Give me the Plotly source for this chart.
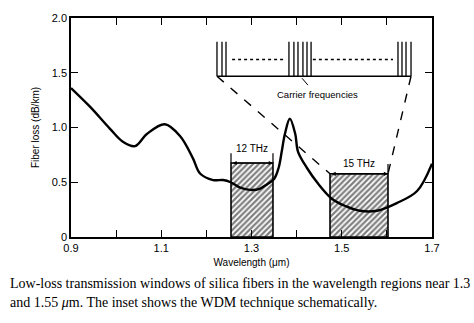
import plotly.graph_objects as go

# Fiber loss curve (wavelength in um, loss in dB/km)
wavelength = [0.90, 0.942, 0.986, 1.015, 1.042, 1.068, 1.108, 1.142, 1.17, 1.186,
              1.215, 1.237, 1.254, 1.275, 1.297, 1.318, 1.334, 1.35, 1.36, 1.367,
              1.374, 1.385, 1.397, 1.403, 1.423, 1.447, 1.478, 1.51, 1.54, 1.578,
              1.622, 1.667, 1.70]
loss = [1.36, 1.19, 0.99, 0.87, 0.83, 0.94, 1.03, 0.92, 0.72, 0.58,
        0.52, 0.52, 0.50, 0.45, 0.43, 0.44, 0.48, 0.53, 0.63, 0.78,
        0.94, 1.08, 0.94, 0.78, 0.63, 0.49, 0.35, 0.28, 0.24, 0.24,
        0.31, 0.42, 0.67]

# Transmission windows: [start, end, height], labels
windows = [(1.2546, 1.3476, 0.676), (1.474, 1.6025, 0.577)]
window_labels = ["12 THz", "15 THz"]
window_tick_top = [(0.765, 0.765), (None, 0.667)]
window_label_shift = [14, 10]

# Inset schematic (carrier lines)
inset_base = 1.468
inset_top = 1.784
inset_dot_y = 1.622
carrier_left = [1.2235, 1.2346, 1.2435]
carrier_mid = [1.383, 1.394, 1.403, 1.414, 1.423, 1.432]
carrier_right = [1.6246, 1.6335, 1.6424, 1.6535]
dots = [(1.257, 1.3765), (1.436, 1.6136)]

x_tickvals = [0.9, 1.0, 1.1, 1.2, 1.3, 1.4, 1.5, 1.6, 1.7]
x_ticktext = ["0.9", "", "1.1", "", "1.3", "", "1.5", "", "1.7"]
y_tickvals = [0, 0.5, 1.0, 1.5, 2.0]
y_ticktext = ["0", "0.5", "1.0", "1.5", "2.0"]

caption1 = "Low-loss transmission windows of silica fibers in the wavelength regions near 1.3"
caption2 = "and 1.55 <i>\u03bc</i>m. The inset shows the WDM technique schematically."

fig = go.Figure()

# hatched windows
for (x0, x1, h) in windows:
    fig.add_trace(go.Scatter(
        x=[x0, x0, x1, x1, x0], y=[0, h, h, 0, 0], mode="lines",
        fill="toself", fillcolor="white",
        fillpattern=dict(shape="/", fgcolor="black", bgcolor="white", size=4, solidity=0.55),
        line=dict(color="black", width=1.6), hoverinfo="skip", showlegend=False))

# loss curve
fig.add_trace(go.Scatter(x=wavelength, y=loss, mode="lines", line_shape="spline",
                         line=dict(color="black", width=2.4), showlegend=False))

shapes = []
# window end ticks
for (x0, x1, h), (t0, t1) in zip(windows, window_tick_top):
    if t0 is not None:
        shapes.append(dict(type="line", x0=x0, x1=x0, y0=h, y1=t0, line=dict(color="black", width=1.2)))
    if t1 is not None:
        shapes.append(dict(type="line", x0=x1, x1=x1, y0=h, y1=t1, line=dict(color="black", width=1.2)))

# inset
shapes.append(dict(type="line", x0=carrier_left[0], x1=carrier_right[-1], y0=inset_base, y1=inset_base,
                   line=dict(color="black", width=1.3)))
for c in carrier_left + carrier_mid + carrier_right:
    shapes.append(dict(type="line", x0=c, x1=c, y0=inset_base, y1=inset_top, line=dict(color="black", width=1.3)))
for d0, d1 in dots:
    shapes.append(dict(type="line", x0=d0, x1=d1, y0=inset_dot_y, y1=inset_dot_y,
                       line=dict(color="black", width=1.5, dash="dot")))
# leader
shapes.append(dict(type="line", x0=1.425, x1=1.412, y0=1.387, y1=1.45, line=dict(color="black", width=1)))
# dashed zoom lines
shapes.append(dict(type="line", x0=carrier_left[0], y0=inset_base, x1=windows[1][0], y1=windows[1][2],
                   line=dict(color="black", width=1.4, dash="dash")))
shapes.append(dict(type="line", x0=carrier_right[-1], y0=inset_base, x1=windows[1][1], y1=windows[1][2],
                   line=dict(color="black", width=1.4, dash="dash")))

annotations = []
for (x0, x1, h), lab, ys in zip(windows, window_labels, window_label_shift):
    annotations.append(dict(x=x1, y=h, ax=x0, ay=h, axref="x", ayref="y", xref="x", yref="y",
                            text="", showarrow=True, arrowside="end+start", arrowhead=2,
                            arrowsize=0.7, arrowwidth=1.2, arrowcolor="black", standoff=0, startstandoff=0))
    annotations.append(dict(x=(x0 + x1) / 2, y=h, yshift=ys, xref="x", yref="y", text=lab,
                            showarrow=False, font=dict(family="Liberation Sans", size=10, color="black")))
annotations.append(dict(x=1.447, y=1.297, xref="x", yref="y", text="Carrier frequencies", showarrow=False,
                        font=dict(family="Liberation Sans", size=9.5, color="black")))
annotations.append(dict(x=-0.175, y=-0.213, xref="paper", yref="paper", xanchor="left", yanchor="middle",
                        text=caption1, showarrow=False,
                        font=dict(family="Liberation Serif", size=14, color="black")))
annotations.append(dict(x=-0.175, y=-0.297, xref="paper", yref="paper", xanchor="left", yanchor="middle",
                        text=caption2, showarrow=False,
                        font=dict(family="Liberation Serif", size=14, color="black")))

axis_common = dict(showgrid=False, zeroline=False, showline=True, linecolor="black", linewidth=1.6,
                   mirror="ticks", ticks="inside", ticklen=7, tickwidth=1.4, tickcolor="black",
                   tickfont=dict(family="Liberation Sans", size=11, color="black"))

fig.update_layout(
    width=474, height=323, margin=dict(l=71, r=42, t=15, b=86),
    paper_bgcolor="white", plot_bgcolor="white",
    shapes=shapes, annotations=annotations,
    xaxis=dict(range=[0.9, 1.7], tickvals=x_tickvals, ticktext=x_ticktext,
               title=dict(text="Wavelength (\u03bcm)", font=dict(family="Liberation Sans", size=10, color="black"),
                          standoff=6), **axis_common),
    yaxis=dict(range=[0, 2.0], tickvals=y_tickvals, ticktext=y_ticktext,
               title=dict(text="Fiber loss (dB/km)", font=dict(family="Liberation Sans", size=10, color="black"),
                          standoff=10), **axis_common),
)

fig.write_html("out.html")
